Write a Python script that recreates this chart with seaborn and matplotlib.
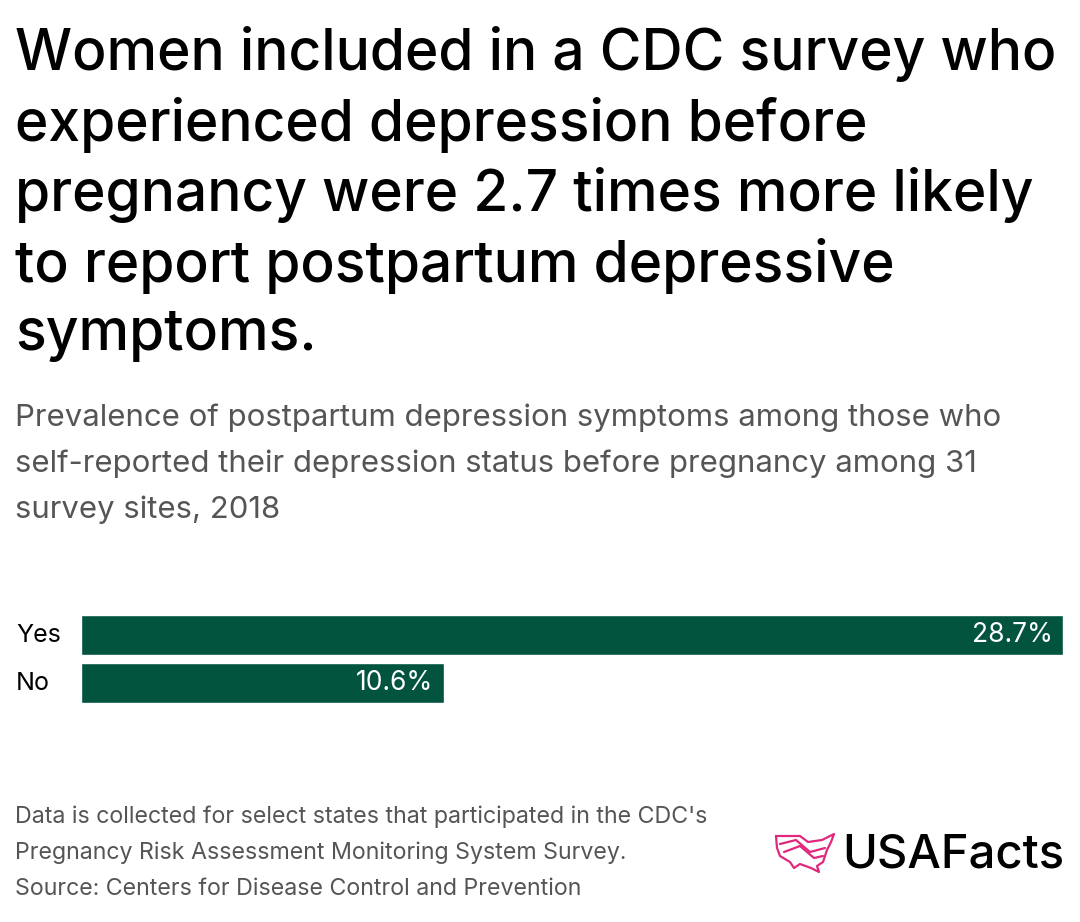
import pandas as pd
import numpy as np
import seaborn as sns
import matplotlib.pyplot as plt

# 数据
categories = ['Yes', 'No']
values = [28.7, 10.6]
value_labels = ['28.7%', '10.6%']

title = ('Women included in a CDC survey who\nexperienced depression before\n'
         'pregnancy were 2.7 times more likely\nto report postpartum depressive\nsymptoms.')
subtitle = ('Prevalence of postpartum depression symptoms among those who\n'
            'self-reported their depression status before pregnancy among 31\n'
            'survey sites, 2018')
footer = ("Data is collected for select states that participated in the CDC's\n"
          "Pregnancy Risk Assessment Monitoring System Survey.\n"
          "Source: Centers for Disease Control and Prevention")

BAR_COLOR = '#02543f'
W, H = 1080, 922

sns.set_theme(style='white')
plt.rcParams['font.family'] = ['Inter', 'DejaVu Sans']

df = pd.DataFrame({'answer': categories, 'pct': values})

fig = plt.figure(figsize=(W / 100, H / 100), dpi=100)
ax = fig.add_axes([81 / W, 1 - 703 / H, (1063 - 81) / W, 88 / H])

bar_w = 40 / 48
sns.barplot(data=df, x='pct', y='answer', orient='h', color=BAR_COLOR,
            width=bar_w, saturation=1, ax=ax)
ax.set_xlim(0, max(values))
ax.set_ylim(1 + bar_w / 2, -bar_w / 2)
ax.axis('off')

for i, (v, lab) in enumerate(zip(values, value_labels)):
    ax.text(v - 0.3, i, lab, color='white', ha='right', va='center', fontsize=19)
    ax.annotate(categories[i], xy=(0, i), xycoords=('figure fraction', 'data'),
                xytext=(16, 0), textcoords='offset pixels',
                ha='left', va='center', fontsize=18, color='black')

fig.text(15 / W, 1 - 26 / H, title, ha='left', va='top', fontsize=41,
         fontweight='medium', color='black', linespacing=1.335)
fig.text(15 / W, 1 - 403 / H, subtitle, ha='left', va='top', fontsize=22.4,
         color='#555555', linespacing=1.8)
fig.text(15 / W, 1 - 805 / H, footer, ha='left', va='top', fontsize=16.7,
         color='#555555', linespacing=1.8)

# logo
fig.text(1064 / W, 1 - 855 / H, 'USAFacts', ha='right', va='center', fontsize=34,
         fontweight='medium', color='black')
outline = np.array([[776, 836], [800, 836], [808, 842], [822, 840], [830, 836],
                    [834, 834], [831, 842], [827, 850], [823, 862], [817, 866],
                    [819, 872], [811, 868], [800, 864], [794, 868], [790, 862],
                    [780, 856], [777, 848], [776, 836]])
fig.add_artist(plt.Line2D(outline[:, 0] / W, 1 - outline[:, 1] / H,
                          transform=fig.transFigure, color='#e0287d', lw=1.6))
fig.add_artist(plt.Line2D(np.array([780, 796, 810, 825]) / W,
                          1 - np.array([844, 840, 852, 848]) / H,
                          transform=fig.transFigure, color='#e0287d', lw=1.6))
fig.add_artist(plt.Line2D(np.array([784, 800, 814, 823]) / W,
                          1 - np.array([852, 846, 858, 856]) / H,
                          transform=fig.transFigure, color='#e0287d', lw=1.6))

plt.savefig('out.png', dpi=100)
plt.close()
